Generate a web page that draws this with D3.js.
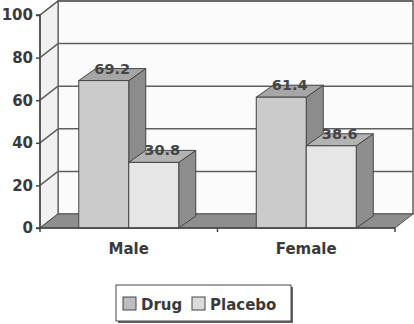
<!DOCTYPE html>
<html>
<head>
<meta charset="utf-8">
<script src="https://cdn.jsdelivr.net/npm/d3@7"></script>
<style>
  html, body { margin: 0; padding: 0; background: #fff; }
  svg { display: block; }
  text { font-family: "DejaVu Sans", Verdana, sans-serif; font-weight: bold; }
</style>
</head>
<body>
<svg id="chart" width="414" height="324"></svg>
<script>
// Chart data
const categories = ["Male", "Female"];
const seriesNames = ["Drug", "Placebo"];
const drugValues = [69.2, 61.4];
const placeboValues = [30.8, 38.6];
const yTicks = [0, 20, 40, 60, 80, 100];

const svg = d3.select("#chart");

// 3D geometry: wall depth and bar depth offsets
const wallDx = 18, wallDy = -14;
const barDx = 17, barDy = -12;

const x0 = d3.scaleBand().domain(categories).range([40, 395]).paddingInner(0).paddingOuter(0);
const y = d3.scaleLinear().domain([0, 100]).range([228, 15]);
const barW = 50;

const series = [
  { name: seriesNames[0], values: drugValues, front: "#cbcbcb", top: "#a6a6a6", side: "#8c8c8c", key: "#bdbdbd" },
  { name: seriesNames[1], values: placeboValues, front: "#e6e6e6", top: "#b3b3b3", side: "#8e8e8e", key: "#dcdcdc" }
];

const gridColor = "#5f5f5f";
const textColor = "#3a3a3a";
const x0L = x0.range()[0], x0R = x0.range()[1];

// Back wall
svg.append("rect")
  .attr("x", x0L + wallDx).attr("y", y(100) + wallDy)
  .attr("width", x0R - x0L).attr("height", y(0) - y(100))
  .attr("fill", "#fbfbfb").attr("stroke", gridColor).attr("stroke-width", 1.5);

// Left side wall
svg.append("path")
  .attr("d", `M${x0L},${y(0)} L${x0L},${y(100)} L${x0L + wallDx},${y(100) + wallDy} L${x0L + wallDx},${y(0) + wallDy} Z`)
  .attr("fill", "#f1f1f1").attr("stroke", gridColor).attr("stroke-width", 1.2);

// Gridlines on the back wall and left wall
const grid = svg.append("g");
yTicks.filter(t => t > 0).forEach(t => {
  grid.append("line")
    .attr("x1", x0L + wallDx).attr("x2", x0R + wallDx)
    .attr("y1", y(t) + wallDy).attr("y2", y(t) + wallDy)
    .attr("stroke", gridColor).attr("stroke-width", 1.5);
  grid.append("line")
    .attr("x1", x0L).attr("x2", x0L + wallDx)
    .attr("y1", y(t)).attr("y2", y(t) + wallDy)
    .attr("stroke", gridColor).attr("stroke-width", 1.5);
});

// Floor
svg.append("path")
  .attr("d", `M${x0L},${y(0)} L${x0R},${y(0)} L${x0R + wallDx},${y(0) + wallDy} L${x0L + wallDx},${y(0) + wallDy} Z`)
  .attr("fill", "#8e8e8e").attr("stroke", "#555").attr("stroke-width", 1);

// Bars
const bars = svg.append("g");
categories.forEach((cat, ci) => {
  const cx = x0(cat) + x0.bandwidth() / 2;
  series.forEach((s, si) => {
    const v = s.values[ci];
    const xl = cx - barW + si * barW;
    const xr = xl + barW;
    const yt = y(v), yb = y(0);
    const g = bars.append("g");
    // side face
    g.append("path")
      .attr("d", `M${xr},${yb} L${xr},${yt} L${xr + barDx},${yt + barDy} L${xr + barDx},${yb + barDy} Z`)
      .attr("fill", s.side).attr("stroke", "#444").attr("stroke-width", 1);
    // top face
    g.append("path")
      .attr("d", `M${xl},${yt} L${xr},${yt} L${xr + barDx},${yt + barDy} L${xl + barDx},${yt + barDy} Z`)
      .attr("fill", s.top).attr("stroke", "#444").attr("stroke-width", 1);
    // front face
    g.append("rect")
      .attr("x", xl).attr("y", yt).attr("width", barW).attr("height", yb - yt)
      .attr("fill", s.front).attr("stroke", "#444").attr("stroke-width", 1);
  });
});

// Value labels
categories.forEach((cat, ci) => {
  const cx = x0(cat) + x0.bandwidth() / 2;
  series.forEach((s, si) => {
    const v = s.values[ci];
    const xl = cx - barW + si * barW;
    svg.append("text")
      .attr("x", xl + (barW + barDx) / 2)
      .attr("y", y(v) - 7)
      .attr("text-anchor", "middle")
      .attr("font-size", 14.5)
      .attr("fill", "#454545")
      .text(v.toFixed(1));
  });
});

// Y axis
const yAxis = d3.axisLeft(y).tickValues(yTicks).tickSize(4).tickPadding(3);
const gy = svg.append("g").attr("transform", `translate(${x0L},0)`).call(yAxis);
gy.select(".domain").attr("stroke", "#444").attr("stroke-width", 1.5).attr("d", `M-4,${y(100)}H0V${y(0)}H-4`);
gy.selectAll(".tick line").attr("stroke", "#444").attr("stroke-width", 1.5);
gy.selectAll(".tick text").attr("font-size", 15).attr("fill", textColor)
  .attr("font-family", "DejaVu Sans, Verdana, sans-serif").attr("font-weight", "bold");

// X axis (front floor edge with category separators)
const gx = svg.append("g");
gx.append("line").attr("x1", x0L).attr("x2", x0R).attr("y1", y(0)).attr("y2", y(0))
  .attr("stroke", "#444").attr("stroke-width", 1.5);
[x0L, x0(categories[1]), x0R].forEach(xx => {
  gx.append("line").attr("x1", xx).attr("x2", xx).attr("y1", y(0)).attr("y2", y(0) + 4)
    .attr("stroke", "#444").attr("stroke-width", 1.5);
});
categories.forEach(cat => {
  gx.append("text")
    .attr("x", x0(cat) + x0.bandwidth() / 2)
    .attr("y", 254)
    .attr("text-anchor", "middle")
    .attr("font-size", 15)
    .attr("fill", textColor)
    .text(cat);
});

// Legend
const legend = svg.append("g");
legend.append("rect").attr("x", 118).attr("y", 287).attr("width", 175).attr("height", 36).attr("fill", "#666");
legend.append("rect").attr("x", 116).attr("y", 285).attr("width", 175).attr("height", 36)
  .attr("fill", "#fff").attr("stroke", "#444").attr("stroke-width", 1);
const legendX = [123, 192];
series.forEach((s, i) => {
  legend.append("rect").attr("x", legendX[i]).attr("y", 297).attr("width", 13).attr("height", 13)
    .attr("fill", s.key).attr("stroke", "#444").attr("stroke-width", 1);
  legend.append("text").attr("x", legendX[i] + 18).attr("y", 309.5)
    .attr("font-size", 15).attr("fill", textColor).text(s.name);
});
</script>
</body>
</html>
